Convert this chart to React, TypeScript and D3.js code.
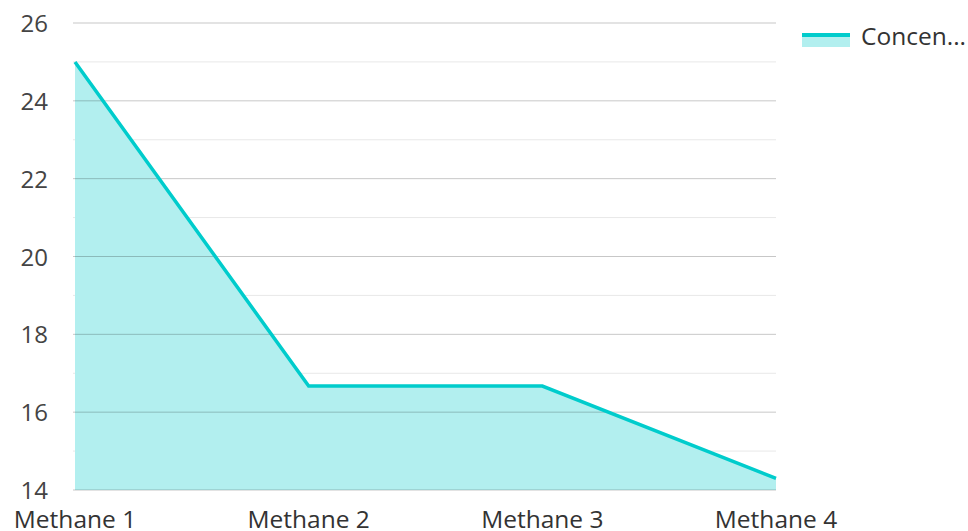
import React from "react";
import * as d3 from "d3";

const categories = ["Methane 1", "Methane 2", "Methane 3", "Methane 4"];
const values = [25, 16.67, 16.67, 14.3];
const majorTicks = [14, 16, 18, 20, 22, 24, 26];
const minorTicks = [15, 17, 19, 21, 23, 25];
const seriesName = "Concen...";

export default function App() {
  const W = 968, H = 531;
  const left = 75, right = 776, top = 23, bottom = 490;
  const x = d3.scalePoint<string>().domain(categories).range([left, right]);
  const y = d3.scaleLinear().domain([14, 26]).range([bottom, top]);
  const pts = categories.map((c, i) => [x(c) as number, y(values[i])] as [number, number]);
  const line = d3.line<[number, number]>()(pts) || "";
  const area = d3.area<[number, number]>().x(d => d[0]).y0(bottom).y1(d => d[1])(pts) || "";
  const font = "'Open Sans', 'Noto Sans', sans-serif";
  return (
    <svg width={W} height={H} style={{ position: "absolute", left: 0, top: 0 }} fontFamily={font}>
      <rect width={W} height={H} fill="#fff" />
      {minorTicks.map(t => (
        <line key={"m" + t} x1={73} x2={right} y1={y(t)} y2={y(t)} stroke="#e8e8e8" strokeWidth={1} />
      ))}
      <path d={area} fill="#b2efef" />
      {majorTicks.map(t => (
        <line key={"M" + t} x1={73} x2={right} y1={y(t)} y2={y(t)} stroke="#000" strokeOpacity={0.22} strokeWidth={1} />
      ))}
      <path d={line} fill="none" stroke="#00cccc" strokeWidth={3.5} strokeLinejoin="miter" />
      {majorTicks.map(t => (
        <text key={"t" + t} x={48} y={y(t) + 9} textAnchor="end" fontSize={24} fill="#444">{t}</text>
      ))}
      {categories.map(c => (
        <text key={c} x={x(c) as number} y={528} textAnchor="middle" fontSize={24.5} fill="#333">{c}</text>
      ))}
      <rect x={802} y={35} width={48} height={12} fill="#b2efef" />
      <rect x={802} y={33} width={48} height={4} fill="#00cccc" />
      <text x={861} y={45} fontSize={24.5} fill="#333">{seriesName}</text>
    </svg>
  );
}
